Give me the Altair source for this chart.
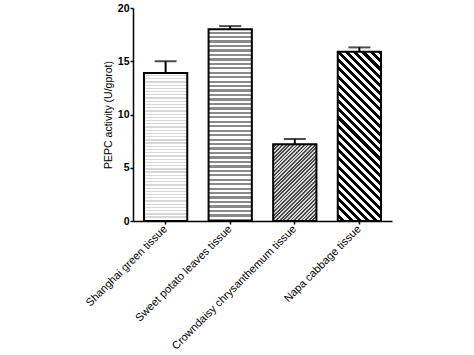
import altair as alt
import pandas as pd
import math

tissues = [
    "Shanghai green tissue",
    "Sweet potato leaves tissue",
    "Crowndaisy chrysanthemum tissue",
    "Napa cabbage tissue",
]
means = [13.9, 18.0, 7.2, 15.9]
errors = [1.1, 0.3, 0.5, 0.4]
y_ticks = [0, 5, 10, 15, 20]

PW, PH = 259, 213
YMAX = 20
P_IN, P_OUT = 0.33, 0.17
FONT = "Liberation Sans"

df = pd.DataFrame({"tissue": tissues, "mean": means, "err": errors})
df["upper"] = df["mean"] + df["err"]

step = PW / (len(tissues) - P_IN + 2 * P_OUT)
BW = step * (1 - P_IN)


def make_stops(n, colors, fracs):
    out = []
    pos = 0.0
    for i in range(n):
        for c, f in zip(colors, fracs):
            p1 = min(1.0, round(pos, 6))
            pos += f / n
            p2 = min(1.0, round(pos, 6))
            out.append({"offset": p1, "color": c})
            out.append({"offset": p2, "color": c})
    return out


def horiz_grad(h_px, period, colors, fracs):
    n = max(1, round(h_px / period))
    return {"gradient": "linear", "x1": 0, "y1": 0, "x2": 0, "y2": 1,
            "stops": make_stops(n, colors, fracs)}


def diag_grad(h_px, period, colors, fracs, down=True):
    r = h_px / BW
    d = (1 + r) / (1 + r * r)
    n = max(1, round((BW + h_px) / math.sqrt(2) / period))
    if down:  # stripes going down-right "\"
        g = {"x1": 0, "y1": 1, "x2": d, "y2": 1 - d * r}
    else:  # stripes going up-right "/"
        g = {"x1": 0, "y1": 0, "x2": d, "y2": d * r}
    g.update({"gradient": "linear", "stops": make_stops(n, colors, fracs)})
    return g


hpx = [m / YMAX * PH for m in means]
fills = [
    horiz_grad(hpx[0], 3.2, ["#ffffff", "#d8d8d8"], [0.6, 0.4]),
    horiz_grad(hpx[1], 4.5, ["#ffffff", "#8a8a8a"], [0.5, 0.5]),
    diag_grad(hpx[2], 2.6, ["#d4d4d4", "#4a4a4a"], [0.5, 0.5], down=False),
    diag_grad(hpx[3], 5.7, ["#ffffff", "#000000"], [0.5, 0.5], down=True),
]

x_enc = alt.X(
    "tissue:N",
    sort=tissues,
    scale=alt.Scale(domain=tissues, paddingInner=P_IN, paddingOuter=P_OUT),
    axis=alt.Axis(
        title=None, labelAngle=-45, labelFont=FONT, labelFontSize=11,
        labelColor="#000", tickSize=3, tickWidth=1.5, tickColor="#000",
        domainColor="#000", domainWidth=1.5, labelPadding=3,
    ),
)
y_scale = alt.Scale(domain=[0, YMAX], nice=False)
y_axis = alt.Axis(
    values=y_ticks, title="PEPC activity (U/gprot)", titleFont=FONT,
    titleFontSize=10.5, titleFontWeight="normal", titleColor="#000",
    labelFont=FONT, labelFontSize=10.5, labelFontWeight="bold", labelColor="#000",
    tickSize=3, tickWidth=1.5, tickColor="#000", domainColor="#000",
    domainWidth=1.5, labelPadding=1, grid=False, titlePadding=4,
)

base = alt.Chart(df)
layers = []
for name, f in zip(tissues, fills):
    layers.append(
        base.transform_filter(alt.datum.tissue == name)
        .mark_bar(fill=f, stroke="#000", strokeWidth=2)
        .encode(x=x_enc, y=alt.Y("mean:Q", scale=y_scale, axis=y_axis))
    )

err_rule = base.mark_rule(color="#000", strokeWidth=2).encode(
    x=alt.X("tissue:N", sort=tissues), y="mean:Q", y2="upper:Q"
)
err_cap = base.mark_tick(color="#000", size=22, thickness=2).encode(
    x=alt.X("tissue:N", sort=tissues), y="upper:Q"
)

chart = (
    alt.layer(err_rule, *layers, err_cap)
    .properties(
        width=PW, height=PH,
        autosize=alt.AutoSizeParams(type="none"),
        padding={"left": 133, "top": 8, "right": 474 - 133 - PW, "bottom": 355 - 8 - PH},
        background="white",
    )
    .configure_view(strokeWidth=0)
)

chart.save("out.html", embed_options={"renderer": "svg", "actions": False})
